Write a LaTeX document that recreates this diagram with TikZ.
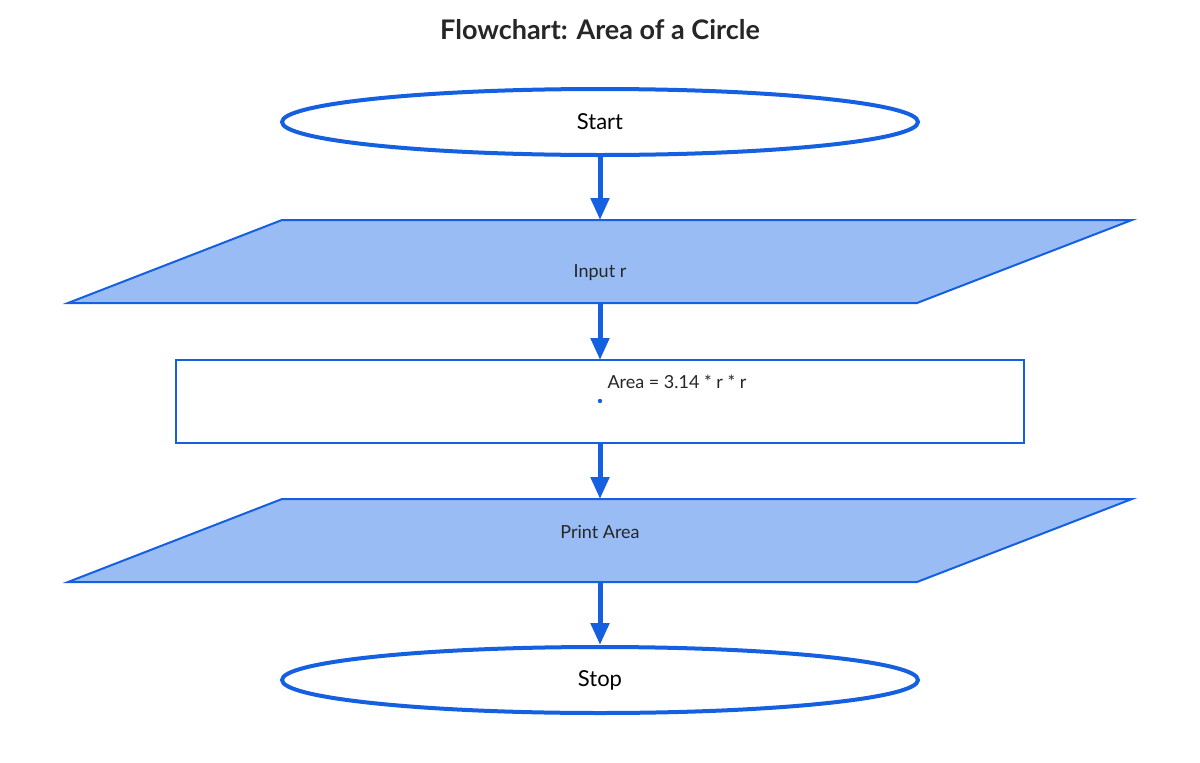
\documentclass[tikz,border=0pt]{standalone}
\usepackage{fontspec}
\setmainfont{Lato}
\usetikzlibrary{arrows.meta,shapes.geometric}
\definecolor{bl}{HTML}{1560E0}
\definecolor{lb}{HTML}{99BCF5}
\begin{document}
\begin{tikzpicture}[x=1pt,y=-1pt,
  term/.style={draw=bl,line width=4pt,fill=white,ellipse,minimum width=636pt,minimum height=66pt,inner sep=0pt,font=\fontsize{22}{26}\selectfont},
  io/.style={draw=bl,line width=2pt,fill=lb},
  proc/.style={draw=bl,line width=2pt,fill=white},
  lbl/.style={font=\fontsize{18}{22}\selectfont,text=black!85},
  arr/.style={draw=bl,line width=5pt,-{Triangle[length=22pt,width=18pt]}}]
\useasboundingbox (0,0) rectangle (1200,763);
\node[font=\bfseries\fontsize{27}{32}\selectfont,text=black!85] (title) at (600,30) {Flowchart: Area of a Circle};
\node[term] (start) at (600,122) {Start};
\draw[io] (282,220) -- (1132,220) -- (917,303) -- (68,303) -- cycle;
\coordinate (inT) at (600,220); \coordinate (inB) at (600,303);
\node[lbl] (input) at (600,273) {Input r};
\draw[proc] (176,360) rectangle (1024,443);
\coordinate (prT) at (600,360); \coordinate (prB) at (600,443);
\node[lbl,anchor=west] (area) at (604,382) {Area = 3.14 * r * r};
\fill[bl] (600,401) circle (2.2pt);
\draw[io] (282,499) -- (1132,499) -- (917,582) -- (68,582) -- cycle;
\coordinate (ouT) at (600,499); \coordinate (ouB) at (600,582);
\node[lbl] (print) at (600,532) {Print Area};
\node[term] (stop) at (600,680) {Stop};
\draw[arr] (start.south) -- (inT);
\draw[arr] (inB) -- (prT);
\draw[arr] (prB) -- (ouT);
\draw[arr] (ouB) -- (stop.north);
\end{tikzpicture}
\end{document}
